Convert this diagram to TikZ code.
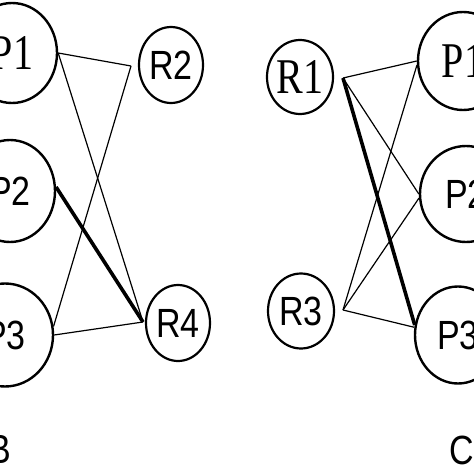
\documentclass[tikz,border=0pt]{standalone}
\usepackage{fontspec}
\setmainfont{Liberation Sans}
\newfontfamily\serifA{Liberation Serif}
\usetikzlibrary{shapes.geometric}
\newcommand{\sanslbl}[1]{\scalebox{1}[1.2]{\fontsize{34}{36}\selectfont #1}}
\newcommand{\seriflbl}[1]{\scalebox{1}[1.25]{\serifA\fontsize{40}{42}\selectfont #1}}
\begin{document}
\begin{tikzpicture}[x=1pt,y=-1pt,
  proc/.style={draw, ellipse, line width=2.4pt, inner sep=0pt},
  res/.style={draw, ellipse, line width=2.2pt, inner sep=0pt, minimum width=64pt, minimum height=76pt},
  edge/.style={line width=1.2pt},
  heavy/.style={line width=3.6pt},
  panel/.style={inner sep=0pt}]
\useasboundingbox (0,0) rectangle (474,474);
% panel B
\node[proc, minimum width=90pt, minimum height=100pt] (P1L) at (12,53) {\seriflbl{P1}};
\node[proc, minimum width=90pt, minimum height=102pt] (P2L) at (10,191) {\sanslbl{P2}};
\node[proc, minimum width=96pt, minimum height=103pt] (P3L) at (5,335) {\sanslbl{P3}};
\node[res] (R2) at (171,65) {\sanslbl{R2}};
\node[res] (R4) at (178,323) {\sanslbl{R4}};
\node[panel] (B) at (0,449) {\sanslbl{B}};
\coordinate (R2p) at (131,66);
\coordinate (R4p) at (143,322);
\draw[edge] (P1L.east) -- (R2p);
\draw[edge] (P1L.east) -- (R4p);
\draw[heavy] (P2L.5) -- (R4p);
\draw[edge] (P3L.10) -- (R2p);
\draw[edge] (P3L.east) -- (R4p);
% panel C
\node[res, minimum width=66pt, minimum height=74pt] (R1) at (300,77) {\seriflbl{R1}};
\node[res, minimum width=66pt, minimum height=75pt] (R3) at (301,311) {\sanslbl{R3}};
\node[proc, minimum width=90pt, minimum height=98pt] (P1R) at (463,61) {\seriflbl{P1}};
\node[proc, minimum width=92pt, minimum height=96pt] (P2R) at (466,194) {\sanslbl{P2}};
\node[proc, minimum width=86pt, minimum height=97pt] (P3R) at (458,335) {\sanslbl{P3}};
\node[panel] (C) at (462,450) {\sanslbl{C}};
\coordinate (R1p) at (343,78);
\coordinate (R3p) at (343,310);
\draw[edge] (R1p) -- (P1R.west);
\draw[edge] (R1p) -- (P2R.west);
\draw[heavy] (R1p) -- (P3R.167);
\draw[edge] (R3p) -- (P1R.185);
\draw[edge] (R3p) -- (P2R.185);
\draw[edge] (R3p) -- (P3R.170);
\end{tikzpicture}
\end{document}
